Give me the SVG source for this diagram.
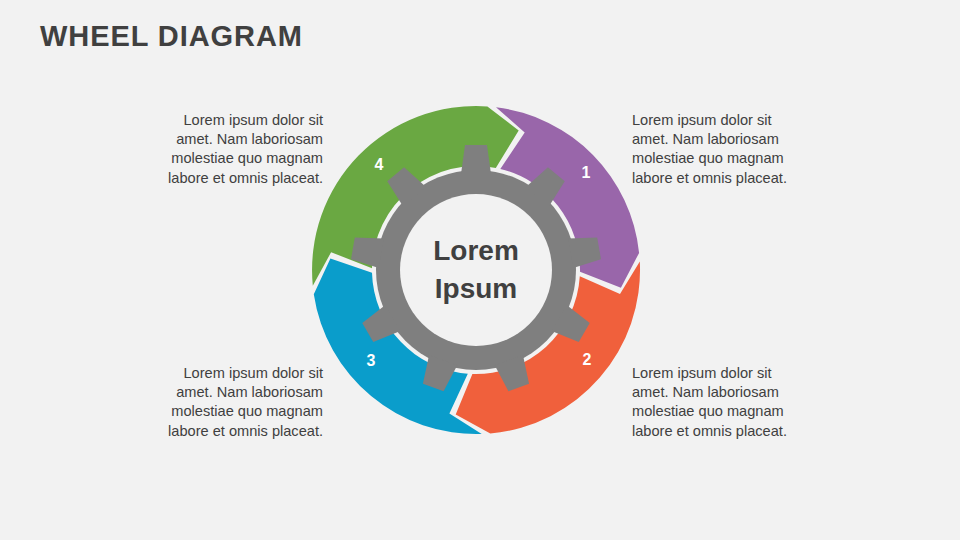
<svg xmlns="http://www.w3.org/2000/svg" width="960" height="540" viewBox="0 0 960 540">
<style>
.t{font-family:"Liberation Sans",Arial,sans-serif;font-size:14.6px;fill:#404040}
.n{font-family:"Liberation Sans",Arial,sans-serif;font-size:16px;font-weight:bold;fill:#fff;text-anchor:middle}
.c{font-family:"Liberation Sans",Arial,sans-serif;font-size:28px;font-weight:bold;fill:#404040;text-anchor:middle}
</style>
<defs><polygon id="tooth" points="-15,-96 15,-96 11,-125 -11,-125" fill="#7f7f7f"/></defs>
<rect width="960" height="540" fill="#f2f2f2"/>
<text x="40" y="46" font-family="Liberation Sans,Arial,sans-serif" font-weight="bold" font-size="29" fill="#404040" textLength="262">WHEEL DIAGRAM</text>
<g id="connectors"></g>
<g id="seg4"><path d="M312.8,285.7 A164,164 0 0 1 487.4,106.4 L518.7,130.4 L495.8,167.9 A104,104 0 0 0 372.0,268.2 L331.1,252.2 Z" fill="#6aa842"/><text class="n" x="379" y="170">4</text></g>
<g id="seg1"><path d="M496.0,107.2 A164,164 0 0 1 639.1,252.9 L620.9,287.8 L580.0,271.8 A104,104 0 0 0 500.3,168.9 L524.7,132.4 Z" fill="#9966aa"/><text class="n" x="586" y="178">1</text></g>
<g id="seg2"><path d="M639.8,261.4 A164,164 0 0 1 490.3,433.4 L455.7,414.6 L472.4,373.9 A104,104 0 0 0 579.8,276.3 L620.0,294.1 Z" fill="#f0603c"/><text class="n" x="587" y="365">2</text></g>
<g id="seg3"><path d="M481.7,433.9 A164,164 0 0 1 313.8,294.2 L330.4,258.5 L372.0,272.7 A104,104 0 0 0 467.8,373.7 L449.4,413.6 Z" fill="#0a9dcb"/><text class="n" x="371" y="366">3</text></g>
<g id="gear" transform="translate(476,270)">
<circle r="102" fill="none" stroke="#f2f2f2" stroke-width="1.5"/>
<circle r="100" fill="#7f7f7f"/>
<use href="#tooth"/><use href="#tooth" transform="rotate(40)"/><use href="#tooth" transform="rotate(80)"/><use href="#tooth" transform="rotate(120)"/><use href="#tooth" transform="rotate(160)"/><use href="#tooth" transform="rotate(200)"/><use href="#tooth" transform="rotate(240)"/><use href="#tooth" transform="rotate(280)"/><use href="#tooth" transform="rotate(320)"/>
<circle r="76" fill="#f2f2f2"/>
<text class="c" x="0" y="-10">Lorem</text><text class="c" x="0" y="28">Ipsum</text>
</g>
<g id="text4" class="t" text-anchor="end"><text x="323" y="125">Lorem ipsum dolor sit</text><text x="323" y="144">amet. Nam laboriosam</text><text x="323" y="163">molestiae quo magnam</text><text x="323" y="183">labore et omnis placeat.</text></g>
<g id="text1" class="t"><text x="632" y="125">Lorem ipsum dolor sit</text><text x="632" y="144">amet. Nam laboriosam</text><text x="632" y="163">molestiae quo magnam</text><text x="632" y="183">labore et omnis placeat.</text></g>
<g id="text3" class="t" text-anchor="end"><text x="323" y="378">Lorem ipsum dolor sit</text><text x="323" y="397">amet. Nam laboriosam</text><text x="323" y="416">molestiae quo magnam</text><text x="323" y="436">labore et omnis placeat.</text></g>
<g id="text2" class="t"><text x="632" y="378">Lorem ipsum dolor sit</text><text x="632" y="397">amet. Nam laboriosam</text><text x="632" y="416">molestiae quo magnam</text><text x="632" y="436">labore et omnis placeat.</text></g>
</svg>
